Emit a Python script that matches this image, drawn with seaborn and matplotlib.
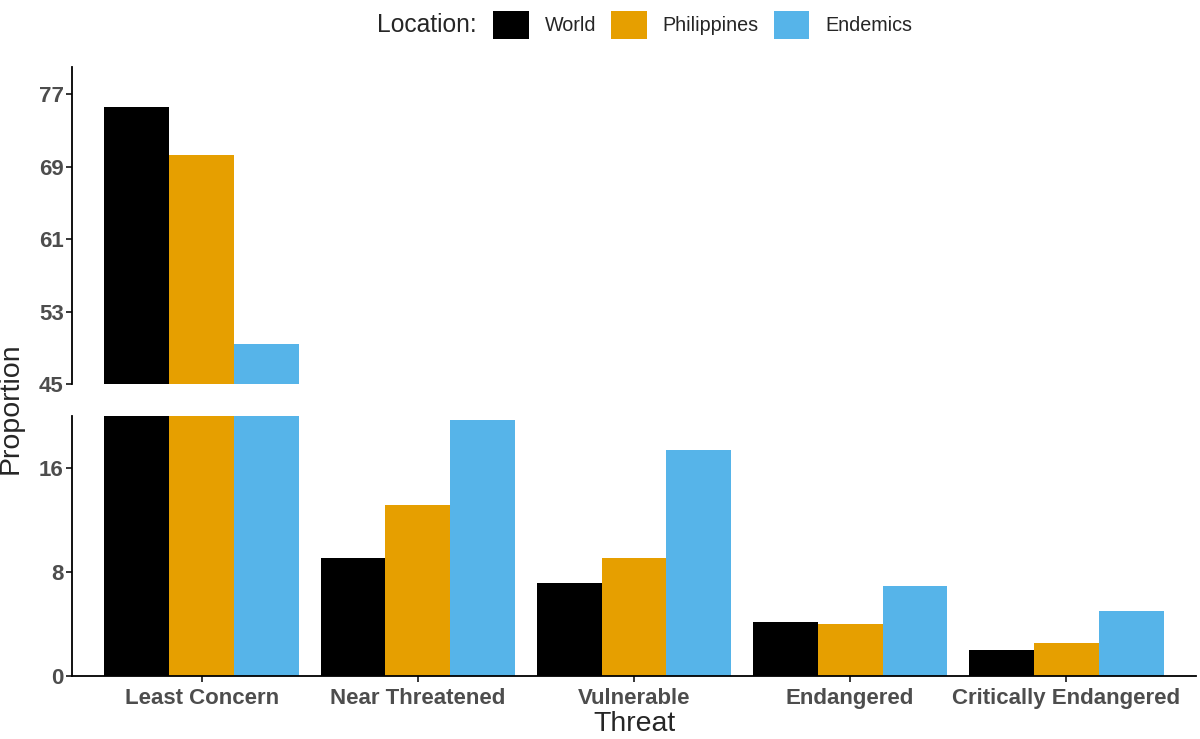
import matplotlib
matplotlib.use("Agg")
import matplotlib.pyplot as plt
import seaborn as sns
import pandas as pd
from matplotlib.patches import Patch

threats = ["Least Concern", "Near Threatened", "Vulnerable", "Endangered", "Critically Endangered"]
locations = ["World", "Philippines", "Endemics"]
world = [75.6, 9.1, 7.15, 4.15, 2.0]
philippines = [70.3, 13.15, 9.1, 4.0, 2.55]
endemics = [49.4, 19.7, 17.4, 6.9, 5.0]
top_ticks = [45, 53, 61, 69, 77]
bottom_ticks = [0, 8, 16]
colors = ["#000000", "#E69F00", "#56B4E9"]
palette = dict(zip(locations, colors))

rows = []
for loc, vals in zip(locations, [world, philippines, endemics]):
    for t, v in zip(threats, vals):
        rows.append({"Threat": t, "Location": loc, "Proportion": v})
df = pd.DataFrame(rows)

sns.set_theme(style="ticks")
plt.rcParams["font.family"] = ["Liberation Sans", "DejaVu Sans"]

fig = plt.figure(figsize=(12, 7.39), dpi=100)
ax_top = fig.add_axes([0.06, 0.4800, 0.9367, 0.4293])
ax_bot = fig.add_axes([0.06, 0.0857, 0.9367, 0.3514])

tick_color = "#4D4D4D"
for ax, lim, ticks in [(ax_top, (45, 80), top_ticks), (ax_bot, (0, 20), bottom_ticks)]:
    sns.barplot(data=df, x="Threat", y="Proportion", hue="Location",
                order=threats, hue_order=locations, palette=palette,
                width=0.9, gap=0, linewidth=0, saturation=1,
                legend=False, errorbar=None, ax=ax)
    ax.set_xlim(-0.6, 4.6)
    ax.set_ylim(*lim)
    ax.set_yticks(ticks, labels=[str(t) for t in ticks], fontweight="bold")
    ax.set_xlabel("")
    ax.set_ylabel("")
    for s in ["top", "right"]:
        ax.spines[s].set_visible(False)
    for s in ["left", "bottom"]:
        ax.spines[s].set_linewidth(1.3)
        ax.spines[s].set_color("black")
    ax.tick_params(axis="both", labelsize=16, labelcolor=tick_color,
                   length=4, width=1.1, color="black", pad=2)

ax_top.spines["bottom"].set_visible(False)
ax_top.tick_params(axis="x", bottom=False, labelbottom=False)
ax_bot.set_xticks(range(len(threats)), labels=threats, fontweight="bold")
ax_bot.tick_params(axis="x", pad=5)

fig.text(11 / 1200, 1 - 408 / 739, "Proportion", rotation=90, ha="center", va="center", fontsize=20.5)
fig.text(634 / 1200, 1 - 724 / 739, "Threat", ha="center", va="center", fontsize=20.5)

fig.text(377 / 1200, 1 - 25 / 739, "Location:", ha="left", va="center", fontsize=17.7)
handles = [Patch(facecolor=c, edgecolor="none", label=l) for l, c in zip(locations, colors)]
fig.legend(handles=handles, ncol=3, loc="center left",
           bbox_to_anchor=(493 / 1200, 1 - 25 / 739), frameon=False,
           fontsize=14.2, handlelength=1.81, handleheight=1.81,
           handletextpad=0.8, columnspacing=0.76, borderpad=0, borderaxespad=0)

fig.savefig("out.png", dpi=100)
